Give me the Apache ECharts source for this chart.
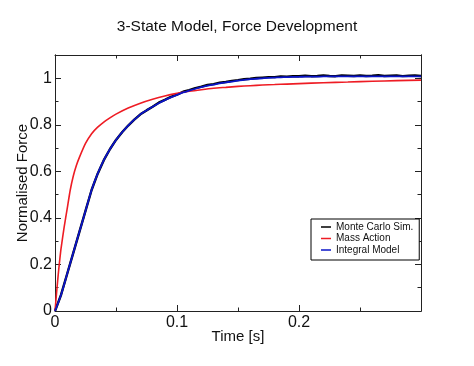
<!DOCTYPE html>
<html>
<head>
<meta charset="utf-8">
<script src="https://cdn.jsdelivr.net/npm/echarts@6/dist/echarts.min.js"></script>
<style>html,body{margin:0;padding:0;background:#fff}#c{width:474px;height:366px}</style>
</head>
<body>
<div id="c"></div>
<script>
const seriesNames = ['Monte Carlo Sim.', 'Mass Action', 'Integral Model'];
const xTickLabels = ['0', '0.1', '0.2'];
const yTickLabels = ['0', '0.2', '0.4', '0.6', '0.8', '1'];

const time = [0,0.005,0.01,0.015,0.02,0.025,0.03,0.035,0.04,0.045,0.05,0.055,0.06,0.065,0.07,0.075,0.08,0.085,0.09,0.095,0.1,
  0.105,0.11,0.115,0.12,0.125,0.13,0.135,0.14,0.145,0.15,0.155,0.16,0.165,0.17,0.175,0.18,0.185,0.19,0.195,0.2,
  0.205,0.21,0.215,0.22,0.225,0.23,0.235,0.24,0.245,0.25,0.255,0.26,0.265,0.27,0.275,0.28,0.285,0.29,0.295,0.3];

const monteCarlo = [0,0.07,0.16,0.25,0.34,0.43,0.52,0.59,0.648,0.695,0.735,0.768,0.797,0.822,0.845,0.862,0.878,0.895,0.907,0.92,0.93,
  0.942,0.949,0.958,0.964,0.971,0.975,0.981,0.984,0.989,0.992,0.996,0.998,1.001,1.003,1.005,1.005,1.008,1.007,1.009,1.009,
  1.011,1.009,1.01,1.012,1.01,1.009,1.012,1.011,1.01,1.012,1.01,1.011,1.013,1.01,1.011,1.012,1.009,1.011,1.012,1.01];

const integralModel = [0,0.07,0.16,0.25,0.34,0.43,0.52,0.59,0.648,0.695,0.735,0.768,0.797,0.822,0.845,0.862,0.878,0.893,0.906,0.918,0.929,
  0.939,0.947,0.955,0.962,0.968,0.973,0.978,0.982,0.986,0.99,0.993,0.996,0.998,1.0,1.002,1.003,1.004,1.005,1.006,1.006,
  1.007,1.007,1.007,1.008,1.008,1.008,1.008,1.008,1.008,1.008,1.008,1.008,1.008,1.008,1.008,1.008,1.008,1.008,1.008,1.008];

const massTime = [0,0.001,0.002,0.003,0.004,0.005,0.0075,0.01,0.0125,0.015,0.0175,0.02,0.025,0.03,0.035,0.04,0.045,0.05,0.06,0.07,0.08,0.09,0.1,
  0.11,0.12,0.13,0.14,0.15,0.16,0.17,0.18,0.19,0.2,0.22,0.24,0.26,0.28,0.3];
const massAction = [0,0.06,0.12,0.175,0.225,0.27,0.36,0.44,0.52,0.58,0.625,0.66,0.72,0.762,0.79,0.812,0.83,0.846,0.872,0.893,0.91,0.924,0.935,
  0.944,0.951,0.957,0.961,0.965,0.968,0.971,0.973,0.975,0.977,0.981,0.984,0.987,0.99,0.992];

const pairs = (xs, ys) => xs.map((x, i) => [x, ys[i]]);
const FONT = '"Liberation Sans", Arial, Helvetica, sans-serif';
const AX = '#222';

const baseX = {
  type: 'value', min: 0, max: 0.3, interval: 0.1, nameMoveOverlap: false,
  axisLine: { show: true, onZero: false, lineStyle: { color: AX, width: 1 } },
  axisTick: { show: true, inside: true, length: 6, lineStyle: { color: AX } },
  minorTick: { show: true, splitNumber: 2, length: 3.5, lineStyle: { color: AX } },
  splitLine: { show: false }, minorSplitLine: { show: false }
};
const baseY = {
  type: 'value', min: 0, max: 1.1, nameMoveOverlap: false,
  axisLine: { show: true, onZero: false, lineStyle: { color: AX, width: 1 } },
  splitLine: { show: false }
};

const chart = echarts.init(document.getElementById('c'), null, { renderer: 'canvas' });
chart.setOption({
  animation: false,
  backgroundColor: '#fff',
  title: {
    text: '3-State Model, Force Development', left: 'center', top: 14,
    textStyle: { fontFamily: FONT, fontSize: 15.5, fontWeight: 'normal', color: '#111' }
  },
  grid: { left: 55, right: 53, top: 55, bottom: 55, containLabel: false, outerBoundsMode: 'none' },
  legend: {
    orient: 'vertical', left: 311, top: 219,
    data: seriesNames.map(n => ({ name: n, icon: 'rect' })),
    itemWidth: 10, itemHeight: 1.5, itemGap: 1.5,
    padding: [3, 6, 5, 10],
    borderColor: '#000', borderWidth: 1, backgroundColor: '#fff',
    textStyle: { fontFamily: FONT, fontSize: 10, color: '#111', padding: [0, 0, 0, 0] }
  },
  xAxis: [
    Object.assign({}, baseX, {
      position: 'bottom',
      name: 'Time [s]', nameLocation: 'middle', nameGap: 18,
      nameTextStyle: { fontFamily: FONT, fontSize: 15, color: '#111' },
      axisLabel: {
        show: true, margin: 4, fontFamily: FONT, fontSize: 16, color: '#111', showMaxLabel: false,
        formatter: v => xTickLabels[Math.round(v * 10)] || ''
      }
    }),
    Object.assign({}, baseX, { position: 'top', axisLabel: { show: false } })
  ],
  yAxis: [
    Object.assign({}, baseY, {
      position: 'left', interval: 0.2,
      name: 'Normalised Force', nameLocation: 'middle', nameGap: 25,
      nameTextStyle: { fontFamily: FONT, fontSize: 15, color: '#111' },
      axisTick: { show: true, inside: true, length: 6, lineStyle: { color: AX } },
      axisLabel: {
        show: true, margin: 3, fontFamily: FONT, fontSize: 16, color: '#111', showMaxLabel: false,
        formatter: v => { const i = Math.round(v * 5); return (Math.abs(v * 5 - i) < 1e-6 && yTickLabels[i]) ? yTickLabels[i] : ''; }
      }
    }),
    Object.assign({}, baseY, {
      position: 'left', interval: 0.1,
      axisTick: { show: true, inside: true, length: 3.5, lineStyle: { color: AX } },
      axisLabel: { show: false }
    }),
    Object.assign({}, baseY, {
      position: 'right', interval: 0.2,
      axisTick: { show: true, inside: true, length: 6, lineStyle: { color: AX } },
      axisLabel: { show: false }
    }),
    Object.assign({}, baseY, {
      position: 'right', interval: 0.1,
      axisTick: { show: true, inside: true, length: 3.5, lineStyle: { color: AX } },
      axisLabel: { show: false }
    })
  ],
  series: [
    {
      name: seriesNames[0], type: 'line', xAxisIndex: 0, yAxisIndex: 0,
      data: pairs(time, monteCarlo), showSymbol: false, symbol: 'none',
      lineStyle: { color: '#000', width: 2.4 }, itemStyle: { color: '#000' }
    },
    {
      name: seriesNames[1], type: 'line', xAxisIndex: 0, yAxisIndex: 0,
      data: pairs(massTime, massAction), showSymbol: false, symbol: 'none', smooth: 0.2,
      lineStyle: { color: '#ee1c24', width: 1.6 }, itemStyle: { color: '#ee1c24' }
    },
    {
      name: seriesNames[2], type: 'line', xAxisIndex: 0, yAxisIndex: 0,
      data: pairs(time, integralModel), showSymbol: false, symbol: 'none', smooth: 0.2,
      lineStyle: { color: '#0a14c8', width: 1.8 }, itemStyle: { color: '#0a14c8' }
    }
  ]
});
</script>
</body>
</html>
